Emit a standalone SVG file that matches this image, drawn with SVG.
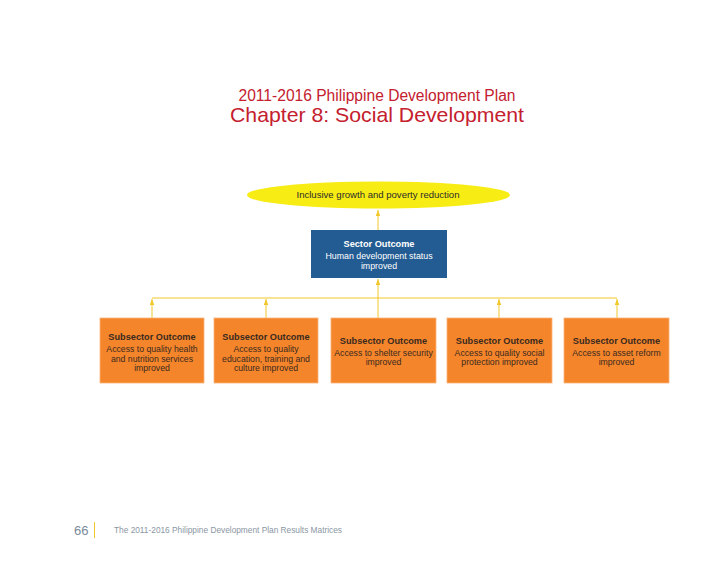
<svg xmlns="http://www.w3.org/2000/svg" width="728" height="563" viewBox="0 0 728 563">
<defs>
<style>
.title{font-family:"Liberation Sans",Arial,sans-serif;fill:#C4202E;}
.box{fill:#F5852A;stroke:#F7B27A;stroke-width:0.8;}
.hd{font-family:"Liberation Sans",Arial,sans-serif;font-size:9.2px;font-weight:bold;fill:#3a2a20;text-anchor:middle;}
.bd{font-family:"Liberation Sans",Arial,sans-serif;font-size:8.7px;fill:#3a2a20;text-anchor:middle;}
.conn{stroke:#F2C72A;stroke-width:1;fill:none;}
</style>
<marker id="ah" viewBox="0 0 8 6" refX="8" refY="3" markerWidth="6" markerHeight="5" orient="auto" markerUnits="userSpaceOnUse">
<path d="M0,0 L8,3 L0,6 Z" fill="#F2C72A"/>
</marker>
</defs>
<rect width="728" height="563" fill="#ffffff"/>
<g id="title">
<text class="title" x="377" y="101" font-size="16" text-anchor="middle" textLength="277" lengthAdjust="spacingAndGlyphs">2011-2016 Philippine Development Plan</text>
<text class="title" x="377" y="122" font-size="21" text-anchor="middle" textLength="294" lengthAdjust="spacingAndGlyphs">Chapter 8: Social Development</text>
</g>
<g id="connectors">
<line class="conn" x1="378" y1="230" x2="378" y2="210" marker-end="url(#ah)"/>
<line class="conn" x1="378" y1="318" x2="378" y2="279" marker-end="url(#ah)"/>
<line class="conn" x1="152" y1="298" x2="617" y2="298"/>
<line class="conn" x1="152" y1="318" x2="152" y2="299" marker-end="url(#ah)"/>
<line class="conn" x1="266" y1="318" x2="266" y2="299" marker-end="url(#ah)"/>
<line class="conn" x1="499" y1="318" x2="499" y2="299" marker-end="url(#ah)"/>
<line class="conn" x1="617" y1="318" x2="617" y2="299" marker-end="url(#ah)"/>
</g>
<g id="goal">
<ellipse cx="378.5" cy="195" rx="131.5" ry="13.5" fill="#F7EC13"/>
<text x="378" y="198" font-family="Liberation Sans,Arial,sans-serif" font-size="8.6" fill="#2b2b2b" text-anchor="middle" textLength="163" lengthAdjust="spacingAndGlyphs">Inclusive growth and poverty reduction</text>
</g>
<g id="sector">
<rect x="311" y="230" width="136" height="48" fill="#235C93"/>
<text x="379" y="247" font-family="Liberation Sans,Arial,sans-serif" font-size="9.2" font-weight="bold" fill="#ffffff" text-anchor="middle">Sector Outcome</text>
<text x="379" y="259" font-family="Liberation Sans,Arial,sans-serif" font-size="8.8" fill="#ffffff" text-anchor="middle">Human development status</text>
<text x="379" y="268.5" font-family="Liberation Sans,Arial,sans-serif" font-size="8.8" fill="#ffffff" text-anchor="middle">improved</text>
</g>
<g id="sub1">
<rect class="box" x="100" y="318" width="104" height="65"/>
<text class="hd" x="152" y="340">Subsector Outcome</text>
<text class="bd" x="152" y="352">Access to quality health</text>
<text class="bd" x="152" y="361.5">and nutrition services</text>
<text class="bd" x="152" y="371">improved</text>
</g>
<g id="sub2">
<rect class="box" x="214" y="318" width="104" height="65"/>
<text class="hd" x="266" y="340">Subsector Outcome</text>
<text class="bd" x="266" y="352">Access to quality</text>
<text class="bd" x="266" y="361.5">education, training and</text>
<text class="bd" x="266" y="371">culture improved</text>
</g>
<g id="sub3">
<rect class="box" x="331" y="318" width="105" height="65"/>
<text class="hd" x="383.5" y="344">Subsector Outcome</text>
<text class="bd" x="383.5" y="355.5">Access to shelter security</text>
<text class="bd" x="383.5" y="365">improved</text>
</g>
<g id="sub4">
<rect class="box" x="447" y="318" width="105" height="65"/>
<text class="hd" x="499.5" y="344">Subsector Outcome</text>
<text class="bd" x="499.5" y="355.5">Access to quality social</text>
<text class="bd" x="499.5" y="365">protection improved</text>
</g>
<g id="sub5">
<rect class="box" x="564" y="318" width="105" height="65"/>
<text class="hd" x="616.5" y="344">Subsector Outcome</text>
<text class="bd" x="616.5" y="355.5">Access to asset reform</text>
<text class="bd" x="616.5" y="365">improved</text>
</g>
<g id="footer">
<text x="74" y="535" font-family="Liberation Sans,Arial,sans-serif" font-size="13" fill="#7a8a99">66</text>
<line x1="94.5" y1="522" x2="94.5" y2="538" stroke="#F2C72A" stroke-width="1"/>
<text x="114" y="533" font-family="Liberation Sans,Arial,sans-serif" font-size="8.6" fill="#8a96a3" textLength="228" lengthAdjust="spacingAndGlyphs">The 2011-2016 Philippine Development Plan Results Matrices</text>
</g>
</svg>
